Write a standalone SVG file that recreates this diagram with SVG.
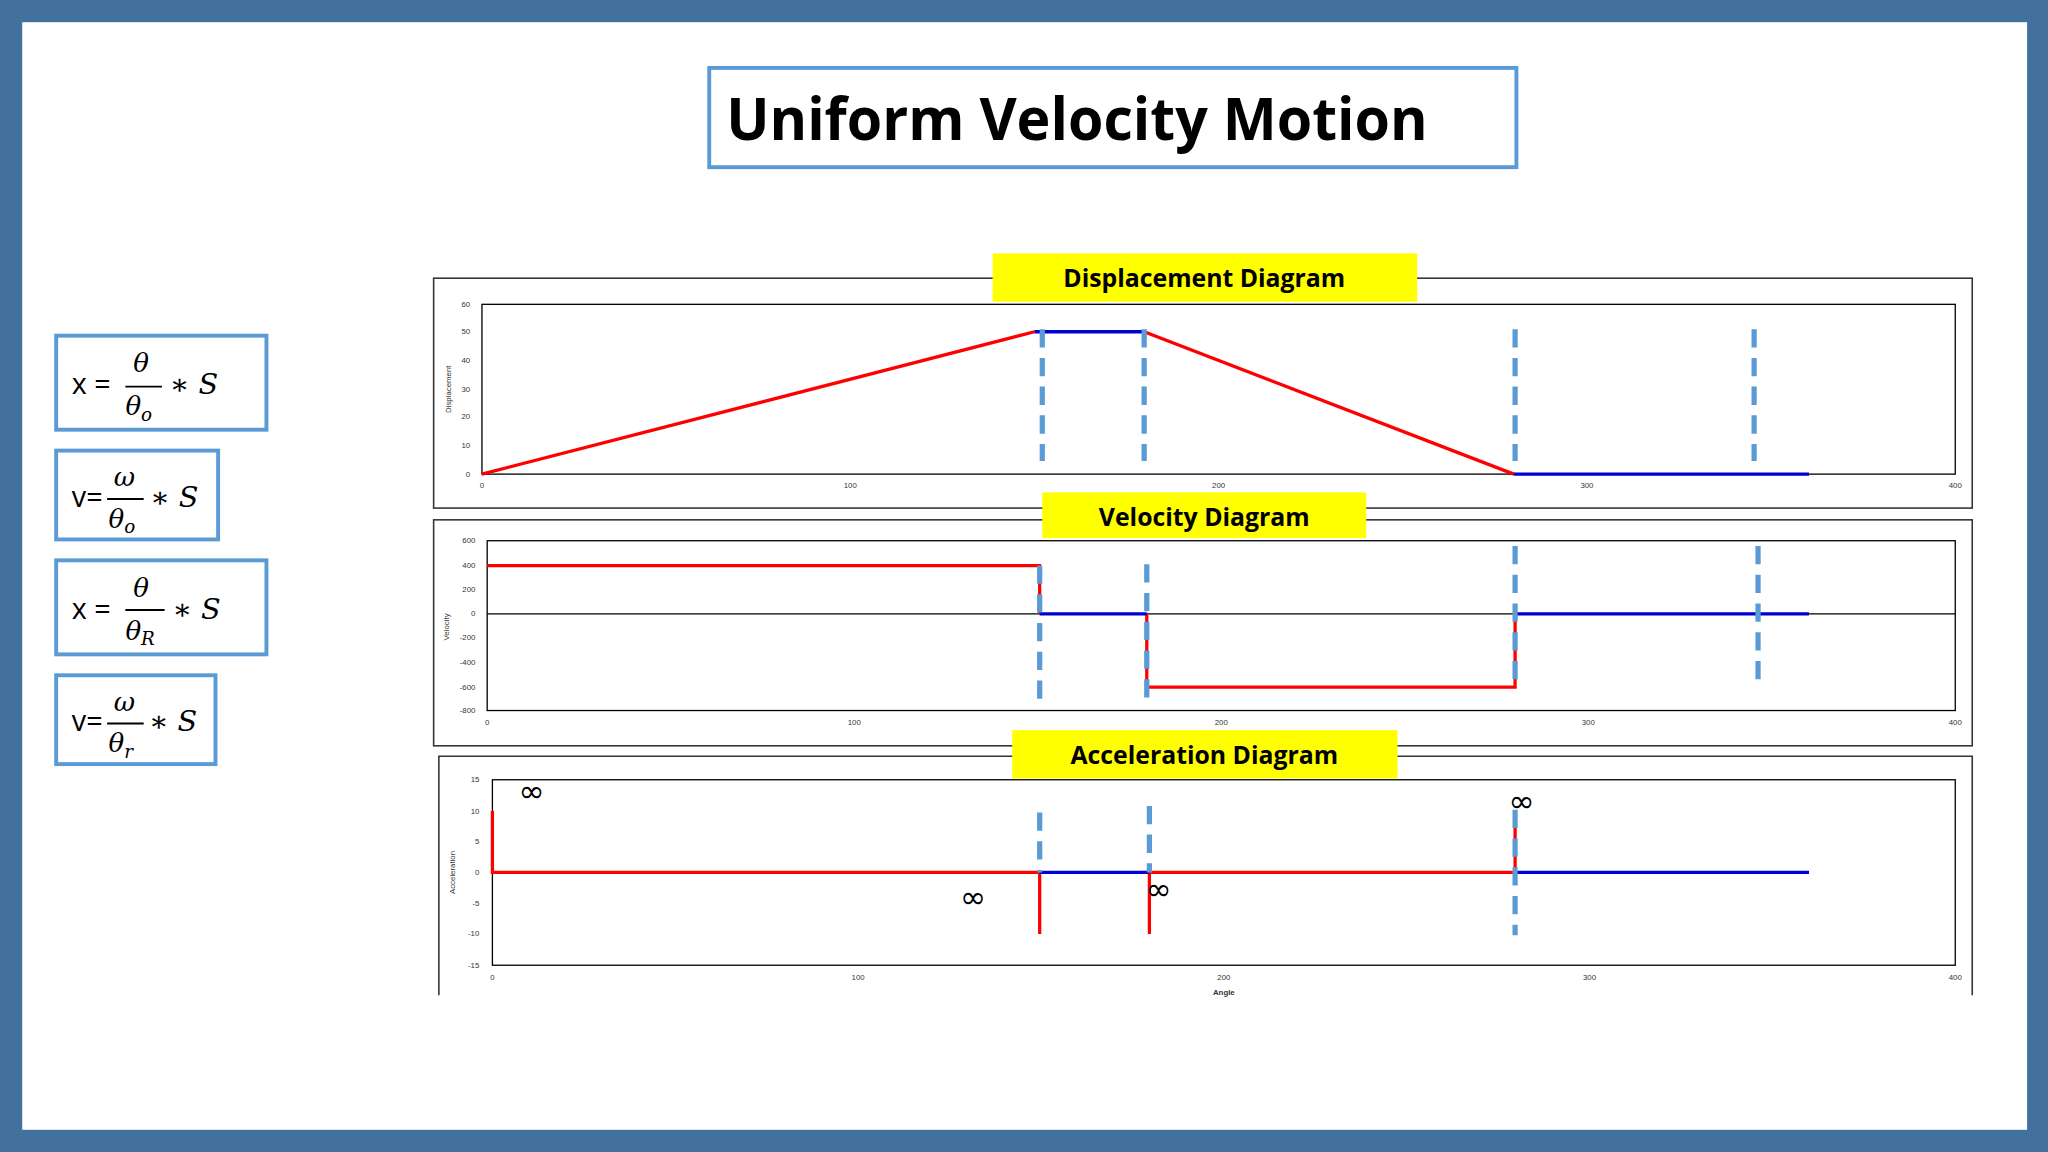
<svg xmlns="http://www.w3.org/2000/svg" width="2048" height="1152" viewBox="0 0 2048 1152">
<style>
.box{fill:#fff;stroke:#5b9bd5;stroke-width:3}
.frame{fill:#fff;stroke:#333;stroke-width:1.2}
.lab{fill:#ffff00}
.lt{font-family:"Open Sans","Liberation Sans",sans-serif;font-weight:bold;font-size:19px;text-anchor:middle}
.ax{stroke:#000;stroke-width:1;fill:none}
.red{stroke:#f00;stroke-width:2.5;fill:none}
.blue{stroke:#0000d0;stroke-width:2.5;fill:none}
.dash{stroke:#5b9bd5;stroke-width:4;stroke-dasharray:14,8;fill:none}
.tk{font-family:"Liberation Sans",sans-serif;font-size:6px;fill:#333}
.f{font-family:"Open Sans","Liberation Sans",sans-serif;font-size:22px}
.m{font-family:"DejaVu Serif","Liberation Serif",serif;font-style:italic}
.inf{font-family:"DejaVu Sans",sans-serif;font-size:24px}
</style>
<g transform="scale(1.306122)">
<rect x="0" y="0" width="1568" height="882" fill="#41719c"/>
<rect x="17" y="17" width="1535" height="848" fill="#fff"/>
<g id="title"><rect class="box" x="543" y="52" width="618" height="76"/>
<text x="556" y="107" font-family="Open Sans,Liberation Sans,sans-serif" font-weight="bold" font-size="45" textLength="537" lengthAdjust="spacingAndGlyphs">Uniform Velocity Motion</text></g>

<g id="f1"><rect class="box" x="43" y="257" width="161" height="72"/>
<text class="f" x="55" y="302">x =</text><text class="m" x="102" y="285" font-size="20">θ</text><line x1="96" y1="296" x2="124" y2="296" stroke="#000" stroke-width="1.5"/><text class="m" x="96" y="318" font-size="20">θ<tspan font-size="14" dy="4">o</tspan></text><text class="m" x="130" y="302" font-size="22">∗ S</text></g>
<g id="f2"><rect class="box" x="43" y="345" width="124" height="68"/>
<text class="f" x="55" y="388">v=</text><text class="m" x="87" y="372" font-size="20">ω</text><line x1="82" y1="382" x2="110" y2="382" stroke="#000" stroke-width="1.5"/><text class="m" x="83" y="404" font-size="20">θ<tspan font-size="14" dy="4">o</tspan></text><text class="m" x="115" y="388" font-size="22">∗ S</text></g>
<g id="f3"><rect class="box" x="43" y="429" width="161" height="72"/>
<text class="f" x="55" y="474">x =</text><text class="m" x="102" y="457" font-size="20">θ</text><line x1="96" y1="467" x2="126" y2="467" stroke="#000" stroke-width="1.5"/><text class="m" x="96" y="490" font-size="20">θ<tspan font-size="14" dy="4">R</tspan></text><text class="m" x="132" y="474" font-size="22">∗ S</text></g>
<g id="f4"><rect class="box" x="43" y="517" width="122" height="68"/>
<text class="f" x="55" y="560">v=</text><text class="m" x="87" y="544" font-size="20">ω</text><line x1="82" y1="554" x2="110" y2="554" stroke="#000" stroke-width="1.5"/><text class="m" x="83" y="576" font-size="20">θ<tspan font-size="14" dy="4">r</tspan></text><text class="m" x="114" y="560" font-size="22">∗ S</text></g>

<g id="disp">
<rect class="frame" x="332" y="213" width="1178" height="176"/>
<rect class="ax" x="369" y="233" width="1128" height="130"/>
<g class="tk" text-anchor="end"><text x="360" y="235">60</text><text x="360" y="256">50</text><text x="360" y="278">40</text><text x="360" y="300">30</text><text x="360" y="321">20</text><text x="360" y="343">10</text><text x="360" y="365">0</text></g>
<g class="tk" text-anchor="middle"><text x="369" y="374">0</text><text x="651" y="374">100</text><text x="933" y="374">200</text><text x="1215" y="374">300</text><text x="1497" y="374">400</text></g>
<text class="tk" transform="translate(345,298) rotate(-90)" text-anchor="middle">Displacement</text>
<polyline class="red" points="369,363 792,254"/><polyline class="red" points="876,254 1159,363"/>
<polyline class="blue" points="792,254 876,254"/><polyline class="blue" points="1159,363 1385,363"/>
<line class="dash" x1="798" y1="252" x2="798" y2="353"/><line class="dash" x1="876" y1="252" x2="876" y2="353"/><line class="dash" x1="1160" y1="252" x2="1160" y2="353"/><line class="dash" x1="1343" y1="252" x2="1343" y2="353"/>
<rect class="lab" x="760" y="194" width="325" height="37"/><text class="lt" x="922" y="220">Displacement Diagram</text>
</g>

<g id="vel">
<rect class="frame" x="332" y="398" width="1178" height="173"/>
<rect class="ax" x="373" y="414" width="1124" height="130"/>
<line class="ax" x1="373" y1="470" x2="1497" y2="470"/>
<g class="tk" text-anchor="end"><text x="364" y="416">600</text><text x="364" y="435">400</text><text x="364" y="453">200</text><text x="364" y="472">0</text><text x="364" y="490">-200</text><text x="364" y="509">-400</text><text x="364" y="528">-600</text><text x="364" y="546">-800</text></g>
<g class="tk" text-anchor="middle"><text x="373" y="555">0</text><text x="654" y="555">100</text><text x="935" y="555">200</text><text x="1216" y="555">300</text><text x="1497" y="555">400</text></g>
<text class="tk" transform="translate(344,480) rotate(-90)" text-anchor="middle">Velocity</text>
<polyline class="red" points="373,433 796,433 796,470"/><polyline class="red" points="878,470 878,526 1160,526 1160,470"/>
<polyline class="blue" points="796,470 878,470"/><polyline class="blue" points="1160,470 1385,470"/>
<line class="dash" x1="796" y1="433" x2="796" y2="538"/><line class="dash" x1="878" y1="432" x2="878" y2="538"/><line class="dash" x1="1160" y1="418" x2="1160" y2="520"/><line class="dash" x1="1346" y1="418" x2="1346" y2="520"/>
<rect class="lab" x="798" y="377" width="248" height="35"/><text class="lt" x="922" y="403">Velocity Diagram</text>
</g>

<g id="acc">
<polyline fill="none" stroke="#333" stroke-width="1.2" points="336,762 336,579 1510,579 1510,762"/>
<rect class="ax" x="377" y="597" width="1120" height="142"/>
<g class="tk" text-anchor="end"><text x="367" y="599">15</text><text x="367" y="623">10</text><text x="367" y="646">5</text><text x="367" y="670">0</text><text x="367" y="694">-5</text><text x="367" y="717">-10</text><text x="367" y="741">-15</text></g>
<g class="tk" text-anchor="middle"><text x="377" y="750">0</text><text x="657" y="750">100</text><text x="937" y="750">200</text><text x="1217" y="750">300</text><text x="1497" y="750">400</text><text x="937" y="762" font-weight="bold">Angle</text></g>
<text class="tk" transform="translate(348,668) rotate(-90)" text-anchor="middle">Acceleration</text>
<polyline class="red" points="377,621 377,668 796,668 796,715"/><polyline class="red" points="880,715 880,668 1160,668 1160,621"/>
<polyline class="blue" points="796,668 880,668"/><polyline class="blue" points="1160,668 1385,668"/>
<line class="dash" x1="796" y1="622" x2="796" y2="668"/><line class="dash" x1="880" y1="617" x2="880" y2="668"/><line class="dash" x1="1160" y1="620" x2="1160" y2="716"/>
<text class="inf" x="407" y="614" text-anchor="middle">∞</text><text class="inf" x="745" y="695" text-anchor="middle">∞</text><text class="inf" x="887" y="689" text-anchor="middle">∞</text><text class="inf" x="1165" y="622" text-anchor="middle">∞</text>
<rect class="lab" x="775" y="559" width="295" height="37"/><text class="lt" x="922" y="585">Acceleration Diagram</text>
</g>
</g>
</svg>
